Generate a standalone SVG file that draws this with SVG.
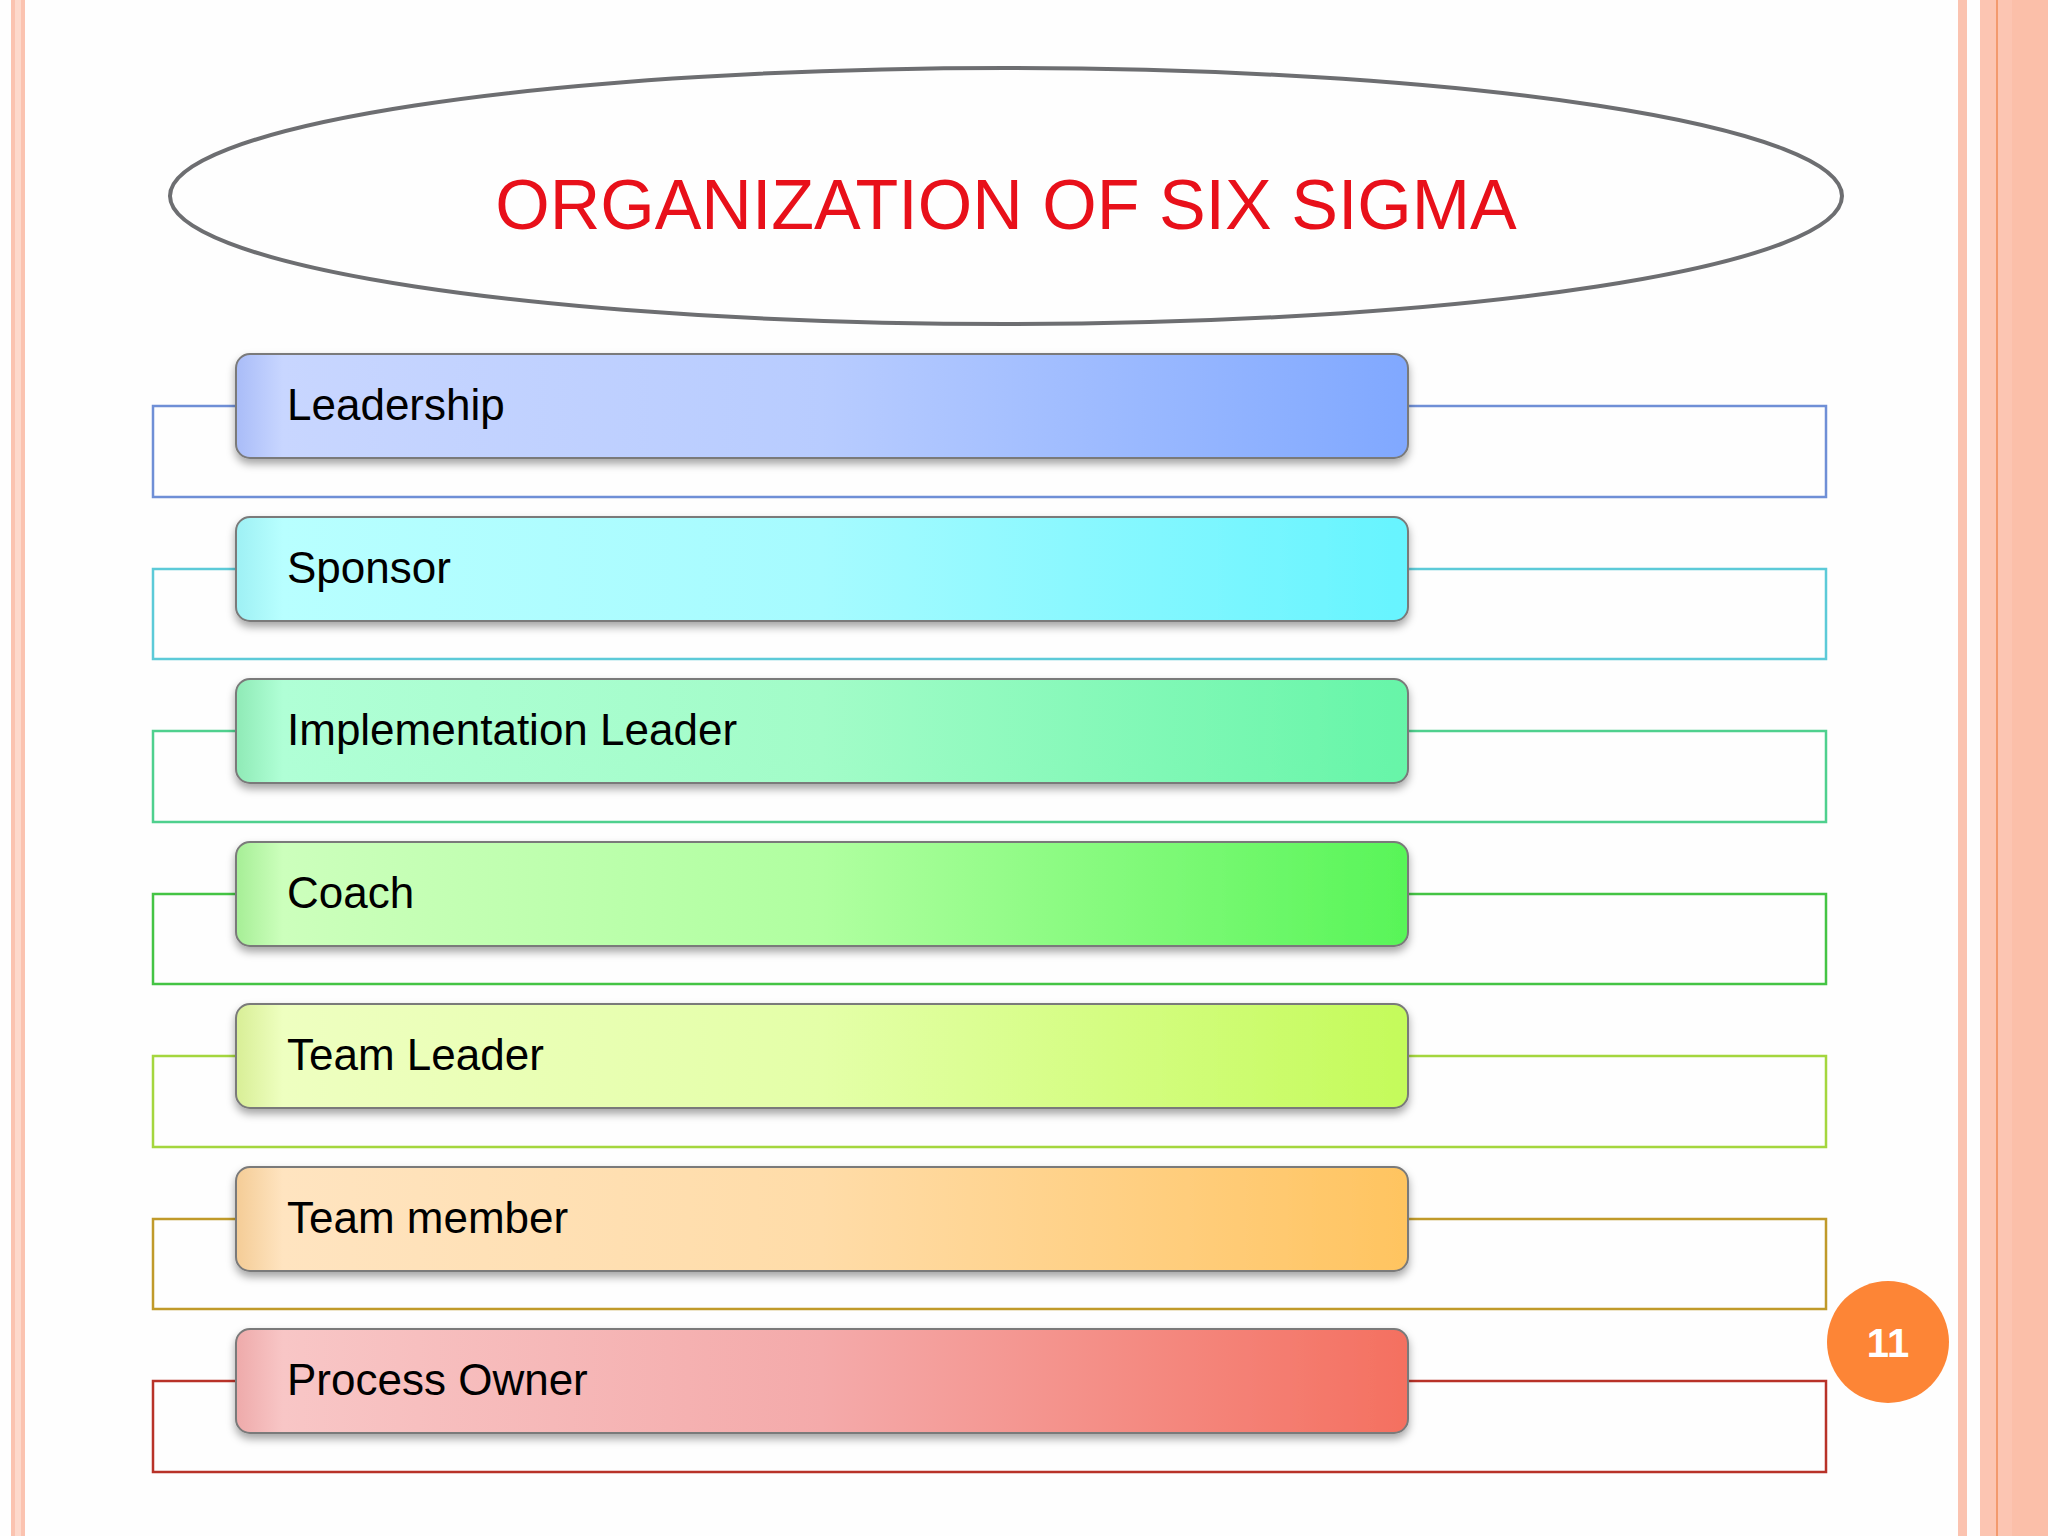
<svg xmlns="http://www.w3.org/2000/svg" width="2048" height="1536" viewBox="0 0 2048 1536">
<defs>
<style>
.lbl{font-family:"Liberation Sans",Arial,sans-serif;font-size:44px;fill:#000}
.out{fill:none;stroke-width:2.5}
.bar{stroke:#7a7a7a;stroke-width:2;filter:url(#sh)}
</style>
<filter id="sh" x="-5%" y="-20%" width="110%" height="150%"><feDropShadow dx="0" dy="5" stdDeviation="4" flood-color="#000" flood-opacity="0.35"/></filter>
<linearGradient id="g1"><stop offset="0" stop-color="#a9bcf8"/><stop offset="0.04" stop-color="#c8d6ff"/><stop offset="0.5" stop-color="#b8ccff"/><stop offset="1" stop-color="#80a8ff"/></linearGradient>
<linearGradient id="g2"><stop offset="0" stop-color="#9ef0f4"/><stop offset="0.04" stop-color="#b8ffff"/><stop offset="0.5" stop-color="#a6fbff"/><stop offset="1" stop-color="#66f4ff"/></linearGradient>
<linearGradient id="g3"><stop offset="0" stop-color="#8feab6"/><stop offset="0.04" stop-color="#b0ffd6"/><stop offset="0.5" stop-color="#a2fcc8"/><stop offset="1" stop-color="#66f5a8"/></linearGradient>
<linearGradient id="g4"><stop offset="0" stop-color="#a6ee96"/><stop offset="0.04" stop-color="#ccffbc"/><stop offset="0.5" stop-color="#b0ffa0"/><stop offset="1" stop-color="#58f558"/></linearGradient>
<linearGradient id="g5"><stop offset="0" stop-color="#d8ee96"/><stop offset="0.04" stop-color="#eeffc0"/><stop offset="0.5" stop-color="#e4ffa8"/><stop offset="1" stop-color="#c4fb5a"/></linearGradient>
<linearGradient id="g6"><stop offset="0" stop-color="#f4cc96"/><stop offset="0.04" stop-color="#ffe4c0"/><stop offset="0.5" stop-color="#ffdca8"/><stop offset="1" stop-color="#ffc460"/></linearGradient>
<linearGradient id="g7"><stop offset="0" stop-color="#eeaaaa"/><stop offset="0.04" stop-color="#f8c6c6"/><stop offset="0.5" stop-color="#f4aaaa"/><stop offset="1" stop-color="#f47060"/></linearGradient>
</defs>
<rect width="2048" height="1536" fill="#fefefe"/>
<rect x="11" y="0" width="13" height="1536" fill="#fdd9cc"/>
<rect x="11" y="0" width="4" height="1536" fill="#fbc3b0"/>
<rect x="21" y="0" width="4" height="1536" fill="#fbc3b0"/>
<rect x="1958" y="0" width="9" height="1536" fill="#fbc3b0"/>
<rect x="1980" y="0" width="68" height="1536" fill="#fcc5b2"/>
<rect x="1996" y="0" width="2" height="1536" fill="#f39a6e"/>
<rect x="2012" y="0" width="36" height="1536" fill="#fbbfa9"/>
<g id="title">
<ellipse cx="1006" cy="196" rx="836" ry="128" fill="#fefefe" stroke="#6d6e71" stroke-width="4"/>
<text x="1006" y="229" text-anchor="middle" font-family="'Liberation Sans',Arial,sans-serif" font-size="70" fill="#e8101a">ORGANIZATION OF SIX SIGMA</text>
</g>
<g id="connectors">
<path class="out" stroke="#6f8fd6" d="M236 406H153V497H1826V406H1408"/>
<path class="out" stroke="#5ccad8" d="M236 569H153V659H1826V569H1408"/>
<path class="out" stroke="#4fd08e" d="M236 731H153V822H1826V731H1408"/>
<path class="out" stroke="#44c444" d="M236 894H153V984H1826V894H1408"/>
<path class="out" stroke="#a4d63e" d="M236 1056H153V1147H1826V1056H1408"/>
<path class="out" stroke="#c09a2a" d="M236 1219H153V1309H1826V1219H1408"/>
<path class="out" stroke="#b83228" d="M236 1381H153V1472H1826V1381H1408"/>
</g>
<g id="n1"><rect class="bar" x="236" y="354" width="1172" height="104" rx="14" fill="url(#g1)"/><text class="lbl" x="287" y="420">Leadership</text></g>
<g id="n2"><rect class="bar" x="236" y="517" width="1172" height="104" rx="14" fill="url(#g2)"/><text class="lbl" x="287" y="583">Sponsor</text></g>
<g id="n3"><rect class="bar" x="236" y="679" width="1172" height="104" rx="14" fill="url(#g3)"/><text class="lbl" x="287" y="745">Implementation Leader</text></g>
<g id="n4"><rect class="bar" x="236" y="842" width="1172" height="104" rx="14" fill="url(#g4)"/><text class="lbl" x="287" y="908">Coach</text></g>
<g id="n5"><rect class="bar" x="236" y="1004" width="1172" height="104" rx="14" fill="url(#g5)"/><text class="lbl" x="287" y="1070">Team Leader</text></g>
<g id="n6"><rect class="bar" x="236" y="1167" width="1172" height="104" rx="14" fill="url(#g6)"/><text class="lbl" x="287" y="1233">Team member</text></g>
<g id="n7"><rect class="bar" x="236" y="1329" width="1172" height="104" rx="14" fill="url(#g7)"/><text class="lbl" x="287" y="1395">Process Owner</text></g>
<g id="page">
<circle cx="1888" cy="1342" r="61" fill="#fd8536"/>
<text x="1888" y="1357" text-anchor="middle" font-family="'Liberation Sans',Arial,sans-serif" font-weight="bold" font-size="40" fill="#fff">11</text>
</g>
</svg>
